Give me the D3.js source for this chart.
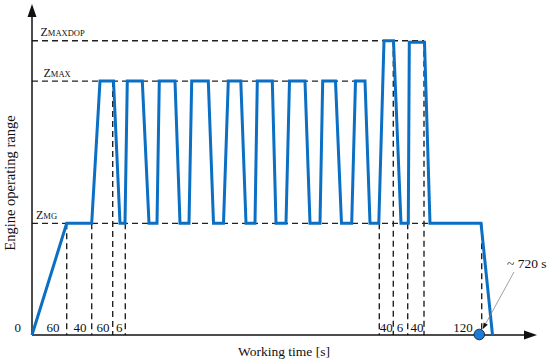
<!DOCTYPE html>
<meta charset="utf-8" />
<script src="https://d3js.org/d3.v7.min.js"></script>
<style>
  html, body { margin: 0; padding: 0; background: #fff; overflow: hidden; }
  svg text { font-family: "Liberation Serif", "DejaVu Serif", serif; fill: #111; }
</style>
<div id="chart"></div>
<script>
  var width = 550;
  var height = 364;

  // engine levels (relative to Z_MAXDOP)
  var zMG = 0.3795;
  var zMAX = 0.863;
  var zDOP = 1.0;
  var zDOP2 = 0.9946;

  // schematic time units (drawing is not to scale)
  var profileT = [0, 34.7, 59.7, 68, 81.5, 88, 93, 95.3, 110.3, 117, 125, 127.3, 143, 148, 157,
    159.7, 176.3, 181.5, 191.5, 196.3, 208.8, 214, 223, 225.3, 240.3, 244, 254, 257.5, 273,
    278, 288, 290.7, 303.5, 309.5, 319.7, 323.5, 333, 338, 346.8, 352, 361.5, 369, 376.3,
    377.3, 392.5, 398, 449, 460.5];
  var profileZ = [0, zMG, zMG, zMAX, zMAX, zMG, zMG, zMAX, zMAX, zMG, zMG, zMAX, zMAX, zMG, zMG,
    zMAX, zMAX, zMG, zMG, zMAX, zMAX, zMG, zMG, zMAX, zMAX, zMG, zMG, zMAX, zMAX,
    zMG, zMG, zMAX, zMAX, zMG, zMG, zMAX, zMAX, zMG, zMG, zDOP, zDOP, zMG, zMG,
    zDOP2, zDOP2, zMG, zMG, 0];

  var levelNames = ["MAXDOP", "MAX", "MG"];
  var levelValues = [zDOP, zMAX, zMG];
  var levelEnds = [392, 323, 398];

  var guideT = [34.7, 59.7, 80.7, 93.3, 347.3, 361.3, 375.7, 392, 449.7];
  var guideTop = [zMG, zMG, zMAX, zMG, zMG, zDOP, zMG, zDOP, zMG];

  var segLabels = ["60", "40", "60", "6", "40", "6", "40", "120"];
  var segT = [21, 48, 71, 87.3, 354.3, 368, 385, 431];

  var endT = 447.3;
  var endNote = "~ 720 s";

  var x = d3.scaleLinear().domain([0, 505]).range([32, 537]);
  var y = d3.scaleLinear().domain([0, 1.125]).range([335, 4]);

  var svg = d3.select("#chart").append("svg")
    .attr("width", width)
    .attr("height", height);

  // dashed guides
  svg.append("g").selectAll("line")
    .data(levelValues)
    .enter().append("line")
    .attr("x1", x(0))
    .attr("x2", function(d, i) { return x(levelEnds[i]); })
    .attr("y1", function(d) { return y(d); })
    .attr("y2", function(d) { return y(d); })
    .attr("stroke", "#222")
    .attr("stroke-width", 1.4)
    .attr("stroke-dasharray", "6,4");

  svg.append("g").selectAll("line")
    .data(guideT)
    .enter().append("line")
    .attr("x1", function(d) { return x(d); })
    .attr("x2", function(d) { return x(d); })
    .attr("y1", function(d, i) { return y(guideTop[i]); })
    .attr("y2", y(0))
    .attr("stroke", "#222")
    .attr("stroke-width", 1.4)
    .attr("stroke-dasharray", "6,4");

  // level labels
  var lab = svg.append("g").selectAll("text")
    .data(levelNames)
    .enter().append("text")
    .attr("x", function(d, i) { return [40.5, 43.5, 36][i]; })
    .attr("y", function(d, i) { return y(levelValues[i]) - 4.5; });
  lab.append("tspan").style("font-size", "12px").text("Z");
  lab.append("tspan").style("font-size", "8.5px").text(function(d) { return d; });

  // axes
  var axisColor = "#111";
  svg.append("line")
    .attr("x1", x(0)).attr("x2", x(505) - 10)
    .attr("y1", y(0)).attr("y2", y(0))
    .attr("stroke", axisColor).attr("stroke-width", 1.5);
  svg.append("line")
    .attr("x1", x(0)).attr("x2", x(0))
    .attr("y1", y(0)).attr("y2", y(1.125) + 10)
    .attr("stroke", axisColor).attr("stroke-width", 1.5);
  svg.append("path")
    .attr("d", "M" + x(505) + "," + y(0) + "l-13,-4.5v9z")
    .attr("fill", axisColor);
  svg.append("path")
    .attr("d", "M" + x(0) + "," + y(1.125) + "l-4.5,13h9z")
    .attr("fill", axisColor);

  // profile line
  var line = d3.line()
    .x(function(d) { return x(d); })
    .y(function(d, i) { return y(profileZ[i]); });
  svg.append("path")
    .datum(profileT)
    .attr("d", line)
    .attr("fill", "none")
    .attr("stroke", "#0B6FC4")
    .attr("stroke-width", 3)
    .attr("stroke-linejoin", "miter");

  // segment durations
  svg.append("g").selectAll("text")
    .data(segLabels)
    .enter().append("text")
    .attr("x", function(d, i) { return x(segT[i]); })
    .attr("y", y(0) - 3)
    .attr("text-anchor", "middle")
    .style("font-size", "13px")
    .text(function(d) { return d; });

  svg.append("text")
    .attr("x", 21).attr("y", y(0) - 3)
    .attr("text-anchor", "end")
    .style("font-size", "13px")
    .text("0");

  // end marker and note
  svg.append("line")
    .attr("x1", 514).attr("y1", 272)
    .attr("x2", x(endT) + 4).attr("y2", y(0) - 7)
    .attr("stroke", "#888").attr("stroke-width", 0.8);
  svg.append("path")
    .attr("d", "M" + (x(endT) + 3.5) + "," + (y(0) - 6) + "l0.8,-6.5l4.2,2.3z")
    .attr("fill", "#111");
  svg.append("circle")
    .attr("cx", x(endT)).attr("cy", y(0) - 0.5)
    .attr("r", 5.3)
    .attr("fill", "#1C7BD4")
    .attr("stroke", "#1b2d4f")
    .attr("stroke-width", 1);
  svg.append("text")
    .attr("x", 507).attr("y", 268)
    .style("font-size", "13.5px")
    .text(endNote);

  // axis titles
  svg.append("text")
    .attr("x", 284).attr("y", 356)
    .attr("text-anchor", "middle")
    .style("font-size", "13.5px")
    .text("Working time [s]");
  svg.append("text")
    .attr("transform", "translate(15,183) rotate(-90)")
    .attr("text-anchor", "middle")
    .style("font-size", "14.5px")
    .text("Engine operating range");
</script>
